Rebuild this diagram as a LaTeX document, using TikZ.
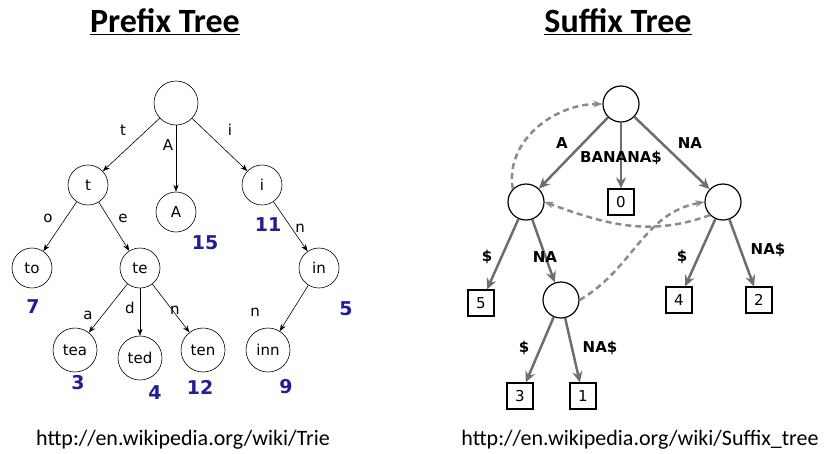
\documentclass[tikz,border=0pt]{standalone}
\usepackage{fontspec}
\setmainfont{Carlito}
\newfontfamily\dv{DejaVu Sans}
\usetikzlibrary{arrows.meta}
\definecolor{nb}{RGB}{30,30,150}
\definecolor{gr}{RGB}{110,110,110}
\begin{document}
\begin{tikzpicture}[x=1pt,y=-1pt,
 pn/.style={circle,draw,line width=0.6pt,minimum size=#1,inner sep=0pt,font=\dv\fontsize{15}{17}\selectfont},
 pe/.style={-{Stealth[length=7pt]},line width=0.6pt},
 el/.style={font=\dv\fontsize{15}{17}\selectfont},
 num/.style={font=\dv\bfseries\fontsize{19}{21}\selectfont,text=nb},
 sn/.style={circle,draw,line width=1.2pt,minimum size=36,inner sep=0pt},
 sb/.style={draw,line width=1.2pt,minimum size=26,inner sep=0pt,font=\dv\fontsize{15}{17}\selectfont},
 se/.style={-{Stealth[length=11pt,width=10pt]},line width=2.5pt,draw=gr},
 sl/.style={font=\dv\bfseries\fontsize{15}{17}\selectfont},
 dl/.style={-{Stealth[length=9pt]},line width=2.5pt,draw=gr!80,dash pattern=on 6pt off 4pt}]
\useasboundingbox (0,0) rectangle (835,453);
\node[font=\bfseries\fontsize{34}{38}\selectfont] (t1) at (165,22) {\underline{Prefix Tree}};
\node[font=\bfseries\fontsize{34}{38}\selectfont] (t2) at (618,22) {\underline{Suffix Tree}};
\node[font=\fontsize{22}{25}\selectfont] (u1) at (183,440) {http://en.wikipedia.org/wiki/Trie};
\node[font=\fontsize{22}{25}\selectfont] (u2) at (640,440) {http://en.wikipedia.org/wiki/Suffix\_tree};
% prefix
\node[pn=44] (r) at (176,103) {};
\node[pn=40] (t) at (88,185) {t};
\node[pn=40] (A) at (176,212) {A};
\node[pn=40] (i) at (262,185) {i};
\node[pn=40] (to) at (32,268) {to};
\node[pn=40] (te) at (140,268) {te};
\node[pn=40] (in) at (319,268) {in};
\node[pn=44] (tea) at (75,350) {tea};
\node[pn=44] (ted) at (140,358) {ted};
\node[pn=44] (ten) at (203,350) {ten};
\node[pn=44] (inn) at (268,350) {inn};
\draw[pe] (r)--(t); \draw[pe] (r)--(A); \draw[pe] (r)--(i);
\draw[pe] (t)--(to); \draw[pe] (t)--(te); \draw[pe] (i)--(in);
\draw[pe] (te)--(tea); \draw[pe] (te)--(ted); \draw[pe] (te)--(ten); \draw[pe] (in)--(inn);
\node[el] (l1) at (123,130) {t}; \node[el] (l2) at (168,145) {A}; \node[el] (l3) at (230,130) {i};
\node[el] (l4) at (48,218) {o}; \node[el] (l5) at (123,218) {e}; \node[el] (l6) at (300,228) {n};
\node[el] (l7) at (88,315) {a}; \node[el] (l8) at (130,308) {d}; \node[el] (l9) at (175,310) {n}; \node[el] (l10) at (255,312) {n};
\node[num] (n7) at (33,307) {7}; \node[num] (n15) at (205,243) {15}; \node[num] (n11) at (268,225) {11};
\node[num] (n5) at (346,309) {5}; \node[num] (n3) at (78,383) {3}; \node[num] (n4) at (155,393) {4};
\node[num] (n12) at (200,387) {12}; \node[num] (n9) at (286,387) {9};
% suffix
\node[sn] (sr) at (621,104) {};
\node[sn] (sa) at (526,202) {};
\node[sb] (b0) at (621,202) {0};
\node[sn] (sc) at (723,202) {};
\node[sb] (b5) at (481,303) {5};
\node[sn] (sm) at (561,300) {};
\node[sb] (b4) at (679,300) {4};
\node[sb] (b2) at (759,300) {2};
\node[sb] (b3) at (520,396) {3};
\node[sb] (b1) at (583,396) {1};
\draw[se] (sr)--(sa); \draw[se] (sr)--(b0); \draw[se] (sr)--(sc);
\draw[se] (sa)--(b5); \draw[se] (sa)--(sm); \draw[se] (sc)--(b4); \draw[se] (sc)--(b2);
\draw[se] (sm)--(b3); \draw[se] (sm)--(b1);
\draw[dl] (sa.north west) to[out=100,in=180] (sr.west);
\draw[dl] (sc.south west) to[out=200,in=-20] (sa.east);
\draw[dl] (sm.east) to[out=30,in=190] (sc.west);
\node[sl] (m1) at (562,143) {A}; \node[sl] (m2) at (621,158) {BANANA\$}; \node[sl] (m3) at (690,143) {NA};
\node[sl] (m4) at (487,257) {\$}; \node[sl] (m5) at (545,257) {NA}; \node[sl] (m6) at (682,257) {\$};
\node[sl] (m7) at (768,250) {NA\$}; \node[sl] (m8) at (524,348) {\$}; \node[sl] (m9) at (600,348) {NA\$};
\end{tikzpicture}
\end{document}
